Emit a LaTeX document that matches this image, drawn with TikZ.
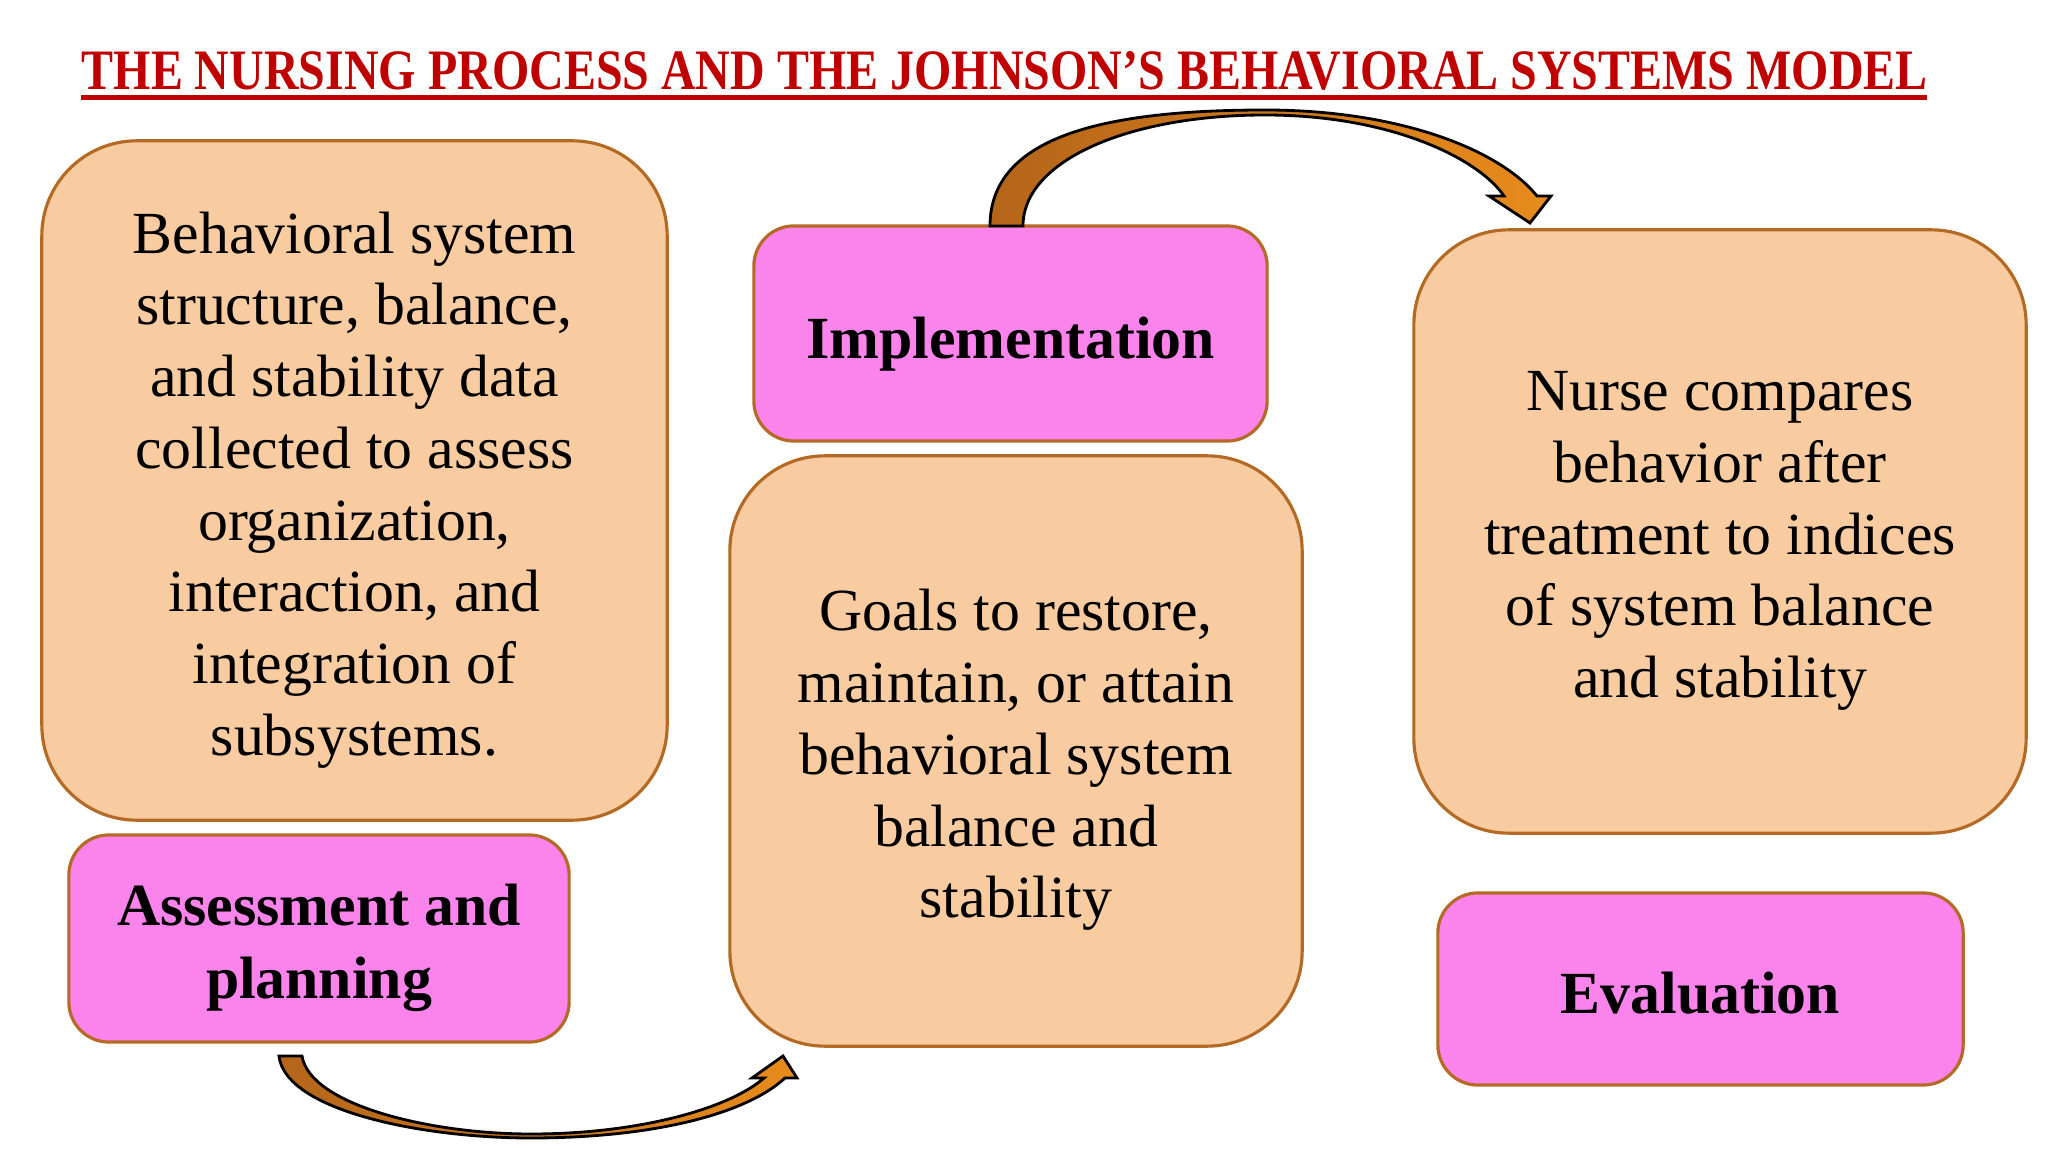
\documentclass[tikz,border=0pt]{standalone}
\usepackage{fontspec}
\setmainfont{Liberation Serif}
\usepackage{graphicx}
\definecolor{titlered}{HTML}{C00000}
\definecolor{orangefill}{HTML}{F8CCA0}
\definecolor{boxedge}{HTML}{B46A24}
\definecolor{pinkfill}{HTML}{FA84EC}
\definecolor{arrowdark}{HTML}{B4651A}
\definecolor{arrowlight}{HTML}{E88B1C}
\tikzset{
  obox/.style={draw=boxedge, fill=orangefill, line width=0.9pt, rounded corners=0.95cm, inner sep=0pt},
  pbox/.style={draw=boxedge, fill=pinkfill, line width=0.9pt, rounded corners=0.4cm, inner sep=0pt},
  otext/.style={align=center, inner sep=0pt, font=\fontsize{17}{20.4}\selectfont},
  ptext/.style={align=center, inner sep=0pt, font=\fontsize{17}{20.8}\selectfont\bfseries},
  blockarrow/.style={draw=black, line width=0.8pt, left color=arrowdark, right color=arrowlight, line join=miter}
}
\begin{document}
\begin{tikzpicture}[x=0.01cm, y=-0.01cm]
\useasboundingbox (0,0) rectangle (2048,1152);
\fill[white] (0,0) rectangle (2048,1152);

% title
\node[anchor=base west, inner sep=0pt, text=titlered] (title) at (81,90)
  {\resizebox{18.45cm}{0.38cm}{\bfseries THE NURSING PROCESS AND THE JOHNSON’S BEHAVIORAL SYSTEMS MODEL}};
\fill[titlered] (81,95) rectangle (1927,100);

% boxes
\node[obox, minimum width=6.25cm, minimum height=6.79cm] (assessdata) at (354.5,480.5) {};
\node[otext] (assessdatatext) at (354.5,490)
  {Behavioral system\\ structure, balance,\\ and stability data\\ collected to assess\\ organization,\\ interaction, and\\ integration of\\ subsystems.};
\node[pbox, minimum width=5.0cm, minimum height=2.07cm] (assess) at (319,938.5) {};
\node[ptext] (assesstext) at (319,948) {Assessment and\\ planning};
\node[pbox, minimum width=5.13cm, minimum height=2.15cm] (impl) at (1010.5,333.5) {};
\node[ptext] (impltext) at (1010.5,344) {Implementation};
\node[obox, minimum width=5.72cm, minimum height=5.9cm] (goals) at (1016,751) {};
\node[otext] (goalstext) at (1016,760)
  {Goals to restore,\\ maintain, or attain\\ behavioral system\\ balance and\\ stability};
\node[obox, minimum width=6.12cm, minimum height=6.03cm] (nurse) at (1720,531.5) {};
\node[otext] (nursetext) at (1720,541)
  {Nurse compares\\ behavior after\\ treatment to indices\\ of system balance\\ and stability};
\node[pbox, minimum width=5.25cm, minimum height=1.92cm] (eval) at (1700.5,989) {};
\node[ptext] (evaltext) at (1700.5,993) {Evaluation};

% top curved arrow: from Implementation to Nurse box
\coordinate (topTail) at (1006,226);
\coordinate (topTip) at (1530,223);
\path[blockarrow]
  (990,226) .. controls (990,138) and (1100,110) .. (1265,110)
  .. controls (1400,110) and (1500,150) .. (1537,196)
  -- (1551,196) -- (topTip) -- (1489,196) -- (1504,196)
  .. controls (1478,158) and (1390,115) .. (1265,115)
  .. controls (1130,115) and (1023,160) .. (1023,226) -- cycle;

% bottom curved arrow: from Assessment and planning to Goals box
\coordinate (botTail) at (290,1056);
\coordinate (botTip) at (783,1056);
\path[blockarrow]
  (279,1056) .. controls (285,1110) and (420,1138) .. (531,1138)
  .. controls (650,1138) and (745,1115) .. (785,1078)
  -- (797,1078) -- (botTip) -- (752,1078) -- (764,1078)
  .. controls (730,1108) and (640,1134) .. (531,1134)
  .. controls (430,1134) and (310,1105) .. (302,1056) -- cycle;
\end{tikzpicture}
\end{document}
